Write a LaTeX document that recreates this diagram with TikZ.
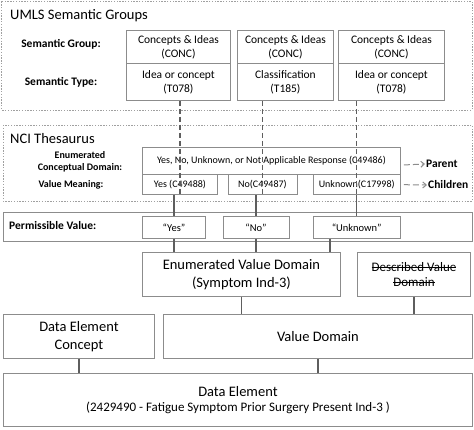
\documentclass[tikz,border=0pt]{standalone}
\usepackage{fontspec}
\setmainfont{Carlito}
\usetikzlibrary{arrows.meta,calc}

\definecolor{boxgray}{HTML}{8C8C8C}
\definecolor{linkgray}{HTML}{5E5E5E}
\definecolor{framegray}{HTML}{A0A0A0}
\newcommand{\fsz}[1]{\fontsize{#1}{\dimexpr #1pt*12/10\relax}\selectfont}
\newlength{\strklen}
\newcommand{\strk}[1]{\settowidth{\strklen}{#1}\rlap{\rule[0.3em]{\strklen}{0.7pt}}#1}

\tikzset{
  box/.style={draw=boxgray, line width=0.9pt, fill=white, inner sep=0pt, align=center},
  frame/.style={draw=framegray, line width=0.8pt, dash pattern=on 1.4pt off 1.4pt},
  rowlabel/.style={font=\bfseries\fsz{#1}, align=center, inner sep=0pt},
  link/.style={draw=linkgray, line width=1.1pt},
  dlink/.style={link, dash pattern=on 5pt off 3pt},
  relarrow/.style={draw=boxgray, line width=1pt, dash pattern=on 6pt off 3pt, -{Straight Barb[length=3.5pt,width=6pt]}},
}

\begin{document}
\begin{tikzpicture}[x=1pt, y=-1pt]
  \useasboundingbox (0,0) rectangle (474,430);

  % UMLS Semantic Groups
  \draw[frame] (1.5,1.5) rectangle (472,110);
  \node[anchor=west, inner sep=0pt, font=\fsz{14.5}] (umls) at (10,16) {UMLS Semantic Groups};
  \node[rowlabel=11.5] (sglab) at (61,44) {Semantic Group:};
  \node[rowlabel=11.5] (stlab) at (61,82) {Semantic Type:};
  \foreach \i/\x/\w/\st in {1/126/104/{Idea or concept\\(T078)},
                            2/237/96/{Classification\\(T185)},
                            3/338/106/{Idea or concept\\(T078)}}{
    \node[box, anchor=north west, minimum width=\w, minimum height=33, font=\fsz{11.5}]
      (sg\i) at (\x,30) {Concepts \& Ideas\\(CONC)};
    \node[box, anchor=north west, minimum width=\w, minimum height=37, font=\fsz{11.5}]
      (st\i) at (\x,63) {\st};
  }

  % NCI Thesaurus
  \draw[frame] (3,125) rectangle (472,201);
  \node[anchor=west, inner sep=0pt, font=\fsz{14.5}] (nci) at (10,139) {NCI Thesaurus};
  \node[rowlabel=10] (ecdlab) at (80,162) {Enumerated\\Conceptual Domain:};
  \node[rowlabel=10] (vmlab) at (71,185) {Value Meaning:};
  \node[box, anchor=north west, minimum width=258, minimum height=27, font=\fsz{10}]
    (ecd) at (142,147) {Yes, No, Unknown, or Not Applicable Response (C49486)};
  \foreach \i/\x/\w/\t in {1/142/75/{Yes (C49488)},
                           2/227.5/69/{No(C49487)},
                           3/312.5/87.5/{Unknown(C17998)}}{
    \node[box, anchor=north west, minimum width=\w, minimum height=20.5, font=\fsz{10}]
      (vm\i) at (\x,174) {\t};
  }
  \node[anchor=west, inner sep=1pt, font=\bfseries\fsz{11.5}] (parent) at (425,164) {Parent};
  \node[anchor=west, inner sep=1pt, font=\bfseries\fsz{11.5}] (children) at (427,185) {Children};
  \draw[relarrow] ($(ecd.east)+(3,4)$) -- (parent.west);
  \draw[relarrow] ($(vm3.east)+(3,0)$) -- (children.west);

  % Permissible values
  \draw[draw=boxgray, line width=0.9pt] (3,212) rectangle (472,241);
  \node[anchor=west, rowlabel=11.5] (pvlab) at (9,226) {Permissible Value:};
  \foreach \i/\x/\w/\t in {1/142/63/{``Yes''},
                           2/222.5/66/{``No''},
                           3/312.5/87.5/{``Unknown''}}{
    \node[box, anchor=north west, minimum width=\w, minimum height=22, font=\fsz{10.5}]
      (pv\i) at (\x,216) {\t};
  }

  % Value domains
  \node[box, anchor=north west, minimum width=198, minimum height=44, font=\fsz{14.5}]
    (evd) at (142,252) {Enumerated Value Domain\\(Symptom Ind-3)};
  \node[box, anchor=north west, minimum width=113, minimum height=44, font=\fsz{13}]
    (dvd) at (357,252) {\strk{Described Value}\\\strk{Domain}};
  \node[box, anchor=north west, minimum width=151, minimum height=44, font=\fsz{14.5}]
    (dec) at (3,314) {Data Element\\Concept};
  \node[box, anchor=north west, minimum width=309, minimum height=44, font=\fsz{14.5}]
    (vd) at (163,314) {Value Domain};
  \node[box, anchor=north west, minimum width=469, minimum height=53, font=\fsz{14.5}]
    (de) at (3,373) {Data Element\\[-2pt]{\fsz{13}(2429490 - Fatigue Symptom Prior Surgery Present Ind-3 )}};

  % Connectors
  \foreach \i in {1,2,3}{
    \draw[dlink] (st\i.south -| vm\i) -- (vm\i.south);
    \draw[link] (pv\i |- vm\i.south) -- (pv\i.north);
  }
  \draw[link] (pv1.south) -- (pv1 |- evd.north);
  \draw[link] (pv2.south) -- (pv2 |- evd.north);
  \coordinate (pv3foot) at ($(pv3.south west)+(17.5,0)$);
  \draw[link] (pv3foot) -- (pv3foot |- evd.north);
  \draw[link] (evd.south) -- (evd |- vd.north);
  \draw[link] (dvd.south) -- (dvd |- vd.north);
  \draw[link] (dec.south) -- (dec |- de.north);
  \draw[link] (vd.south) -- (vd |- de.north);
\end{tikzpicture}
\end{document}
